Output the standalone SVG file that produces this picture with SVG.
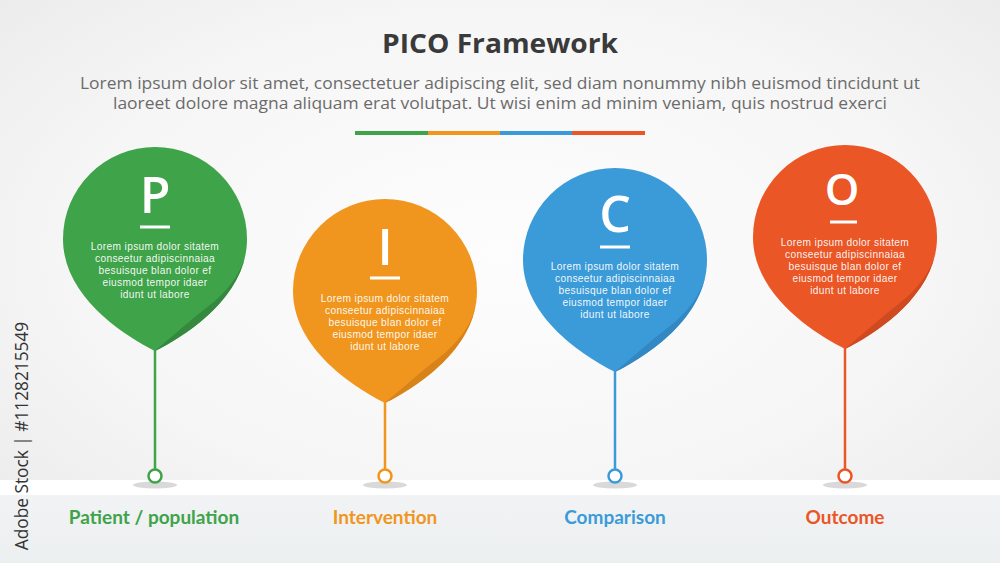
<svg xmlns="http://www.w3.org/2000/svg" width="1000" height="563" viewBox="0 0 1000 563">
<defs>
<radialGradient id="bg" cx="50%" cy="45%" r="70%">
<stop offset="0" stop-color="#fdfdfd"/>
<stop offset="0.6" stop-color="#f6f6f6"/>
<stop offset="1" stop-color="#ebebeb"/>
</radialGradient>
<linearGradient id="floor" x1="0" y1="0" x2="0" y2="1">
<stop offset="0" stop-color="#f1f3f4"/>
<stop offset="1" stop-color="#eceff0"/>
</linearGradient>
<path id="balloon" d="M92 0 C92 58 30 97 0 112 C-30 97 -92 58 -92 0 A92 92 0 0 1 92 0 Z"/>
<clipPath id="bclip"><path d="M92 0 C92 58 30 97 0 112 C-30 97 -92 58 -92 0 A92 92 0 0 1 92 0 Z"/></clipPath>
<path id="shade" d="M90.3 16.8 C86 35 70 55 53 67.5 C38 79 14 100 0 112 L0 130 L130 130 L130 16.8 Z" clip-path="url(#bclip)"/>
</defs>
<style>
.title{font-family:"Open Sans","Liberation Sans",sans-serif;font-weight:700;font-size:27px;fill:#3a3a3a;text-anchor:middle}
.sub{font-family:"Open Sans","Liberation Sans",sans-serif;font-size:16px;fill:#6b6b6b;text-anchor:middle}
.letter{font-family:"Open Sans","Liberation Sans",sans-serif;font-weight:600;font-size:50px;fill:#ffffff;text-anchor:middle}
.body{font-family:"Liberation Sans",Arial,sans-serif;font-size:10.2px;letter-spacing:0.33px;fill:#ffffff;fill-opacity:0.93;text-anchor:middle}
.label{font-family:Lato,"Liberation Sans",sans-serif;font-weight:700;font-size:19px;text-anchor:middle}
.stem{stroke-width:2.5;fill:none}
.dot{stroke-width:2.5;fill:#ffffff}
.shadow{fill:#d9d9d9}
.vert{font-family:"Open Sans","Liberation Sans",sans-serif;font-size:17.3px;fill:#333333;text-anchor:middle}
</style>
<rect x="0" y="0" width="1000" height="563" fill="url(#bg)"/>
<rect x="0" y="480" width="1000" height="15" fill="#ffffff"/>
<rect x="0" y="495" width="1000" height="68" fill="url(#floor)"/>

<g id="header">
<text class="title" x="500" y="53" textLength="236" lengthAdjust="spacingAndGlyphs">PICO Framework</text>
<text class="sub" x="500" y="89" textLength="840" lengthAdjust="spacingAndGlyphs">Lorem ipsum dolor sit amet, consectetuer adipiscing elit, sed diam nonummy nibh euismod tincidunt ut</text>
<text class="sub" x="500" y="109" textLength="774" lengthAdjust="spacingAndGlyphs">laoreet dolore magna aliquam erat volutpat. Ut wisi enim ad minim veniam, quis nostrud exerci</text>
<rect x="355" y="131" width="73" height="4" fill="#3fa34a"/>
<rect x="428" y="131" width="72" height="4" fill="#f0961e"/>
<rect x="500" y="131" width="72" height="4" fill="#3b9bd9"/>
<rect x="572" y="131" width="73" height="4" fill="#ea5626"/>
</g>

<g id="connectors">
<line class="stem" x1="155" y1="350" x2="155" y2="469.5" stroke="#3fa34a"/>
<line class="stem" x1="385" y1="402" x2="385" y2="469.5" stroke="#f0961e"/>
<line class="stem" x1="615" y1="371" x2="615" y2="469.5" stroke="#3b9bd9"/>
<line class="stem" x1="845" y1="348" x2="845" y2="469.5" stroke="#ea5626"/>
</g>

<g id="node-p">
<g transform="translate(155,239)">
<use href="#balloon" fill="#3fa34a"/>
<use href="#shade" fill="#35893f"/>
<text class="letter" x="0" y="-26">P</text>
<rect x="-15" y="-13.5" width="30" height="3" fill="#ffffff"/>
<text class="body" x="0" y="11"><tspan x="0">Lorem ipsum dolor sitatem</tspan><tspan x="0" dy="11.9">conseetur adipiscinnaiaa</tspan><tspan x="0" dy="11.9">besuisque blan dolor ef</tspan><tspan x="0" dy="11.9">eiusmod tempor idaer</tspan><tspan x="0" dy="11.9">idunt ut labore</tspan></text>
</g>
<ellipse class="shadow" cx="155" cy="485" rx="22" ry="3.5"/>
<circle class="dot" cx="155" cy="476" r="6.5" stroke="#3fa34a"/>
<text class="label" x="154" y="524" fill="#3fa34a">Patient / population</text>
</g>

<g id="node-i">
<g transform="translate(385,291)">
<use href="#balloon" fill="#f0961e"/>
<use href="#shade" fill="#d8831a"/>
<text class="letter" x="0" y="-26">I</text>
<rect x="-15" y="-14.5" width="30" height="3" fill="#ffffff"/>
<text class="body" x="0" y="11"><tspan x="0">Lorem ipsum dolor sitatem</tspan><tspan x="0" dy="11.9">conseetur adipiscinnaiaa</tspan><tspan x="0" dy="11.9">besuisque blan dolor ef</tspan><tspan x="0" dy="11.9">eiusmod tempor idaer</tspan><tspan x="0" dy="11.9">idunt ut labore</tspan></text>
</g>
<ellipse class="shadow" cx="385" cy="485" rx="22" ry="3.5"/>
<circle class="dot" cx="385" cy="476" r="6.5" stroke="#f0961e"/>
<text class="label" x="385" y="524" fill="#f0961e">Intervention</text>
</g>

<g id="node-c">
<g transform="translate(615,260)">
<use href="#balloon" fill="#3b9bd9"/>
<use href="#shade" fill="#3388c4"/>
<text class="letter" x="0" y="-28">C</text>
<rect x="-15" y="-14.5" width="30" height="3" fill="#ffffff"/>
<text class="body" x="0" y="10"><tspan x="0">Lorem ipsum dolor sitatem</tspan><tspan x="0" dy="11.9">conseetur adipiscinnaiaa</tspan><tspan x="0" dy="11.9">besuisque blan dolor ef</tspan><tspan x="0" dy="11.9">eiusmod tempor idaer</tspan><tspan x="0" dy="11.9">idunt ut labore</tspan></text>
</g>
<ellipse class="shadow" cx="615" cy="485" rx="22" ry="3.5"/>
<circle class="dot" cx="615" cy="476" r="6.5" stroke="#3b9bd9"/>
<text class="label" x="615" y="524" fill="#3b9bd9">Comparison</text>
</g>

<g id="node-o">
<g transform="translate(845,237)">
<use href="#balloon" fill="#ea5626"/>
<use href="#shade" fill="#cf4a21"/>
<text class="letter" x="-3" y="-32" style="font-size:44px">O</text>
<rect x="-15" y="-16.5" width="27" height="3" fill="#ffffff"/>
<text class="body" x="0" y="9"><tspan x="0">Lorem ipsum dolor sitatem</tspan><tspan x="0" dy="11.9">conseetur adipiscinnaiaa</tspan><tspan x="0" dy="11.9">besuisque blan dolor ef</tspan><tspan x="0" dy="11.9">eiusmod tempor idaer</tspan><tspan x="0" dy="11.9">idunt ut labore</tspan></text>
</g>
<ellipse class="shadow" cx="845" cy="485" rx="22" ry="3.5"/>
<circle class="dot" cx="845" cy="476" r="6.5" stroke="#ea5626"/>
<text class="label" x="845" y="524" fill="#ea5626">Outcome</text>
</g>

<text class="vert" transform="translate(28,436) rotate(-90)">Adobe Stock | #1128215549</text>
</svg>
